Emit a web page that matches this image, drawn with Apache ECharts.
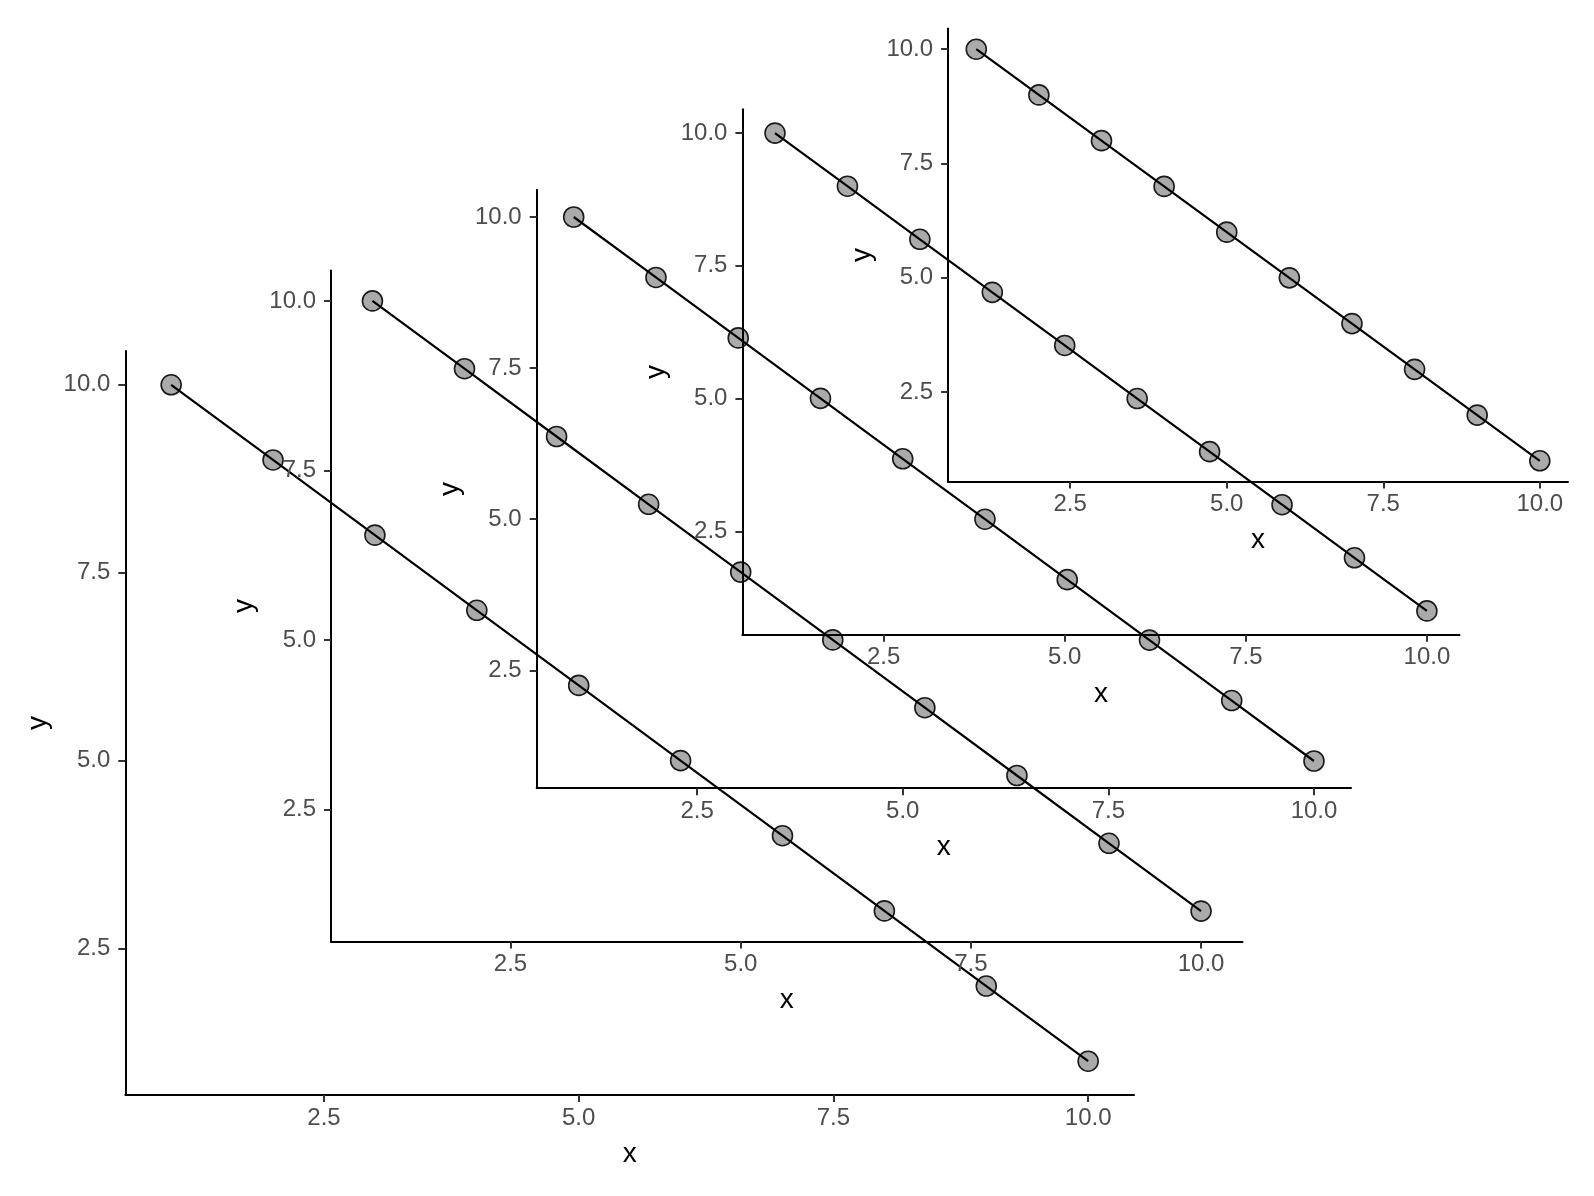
<!DOCTYPE html>
<html>
<head>
<meta charset="utf-8">
<script src="https://cdn.jsdelivr.net/npm/echarts@6/dist/echarts.min.js"></script>
<style>
html,body{margin:0;padding:0;background:#fff;}
#chart{width:1594px;height:1196px;}
</style>
</head>
<body>
<div id="chart"></div>
<script>
// Data (same for every panel)
const xValues = [1, 2, 3, 4, 5, 6, 7, 8, 9, 10];
const yValues = [10, 9, 8, 7, 6, 5, 4, 3, 2, 1];
const tickValues = [2.5, 5.0, 7.5, 10.0];
const panelCount = 5;
const axisMin = 0.55;
const axisMax = 10.45;

const chart = echarts.init(document.getElementById('chart'));
const FONT = '"Liberation Sans", Arial, Helvetica, sans-serif';

const grids = [], xAxes = [], yAxes = [], series = [];
const pts = xValues.map((x, i) => [x, yValues[i]]);

for (let i = 0; i < panelCount; i++) {
  const left = 125.3 + 205.7 * i;
  const top = 351 - 80.6 * i;
  const width = 1008.7 - 97.2 * i;
  const height = 744 - 72.8 * i;
  grids.push({ left: left, top: top, width: width, height: height, containLabel: false, show: false });
  const common = {
    gridIndex: i,
    type: 'value',
    min: axisMin,
    max: axisMax,
    z: 10 * i,
    axisLine: { show: true, onZero: false, lineStyle: { color: '#000', width: 2 } },
    axisTick: { show: true, length: 7, customValues: tickValues, lineStyle: { color: '#333', width: 2 } },
    axisLabel: {
      customValues: tickValues,
      formatter: v => Number(v).toFixed(1),
      color: '#4d4d4d',
      fontSize: 24,
      fontFamily: FONT
    },
    splitLine: { show: false },
    nameLocation: 'middle',
    nameTextStyle: { color: '#000', fontSize: 28, fontFamily: FONT }
  };
  xAxes.push(Object.assign({}, common, {
    name: 'x',
    nameGap: 45,
    axisLabel: Object.assign({}, common.axisLabel, { margin: 11 })
  }));
  yAxes.push(Object.assign({}, common, {
    name: 'y',
    nameGap: 72,
    axisLabel: Object.assign({}, common.axisLabel, { margin: 15 })
  }));
  series.push({
    type: 'scatter',
    xAxisIndex: i, yAxisIndex: i,
    data: pts,
    z: 10 * i + 1,
    symbol: 'circle',
    symbolSize: 20,
    itemStyle: { color: '#aaaaaa', borderColor: '#1a1a1a', borderWidth: 1.6, opacity: 1 },
    silent: true,
    animation: false
  });
  series.push({
    type: 'line',
    xAxisIndex: i, yAxisIndex: i,
    data: pts,
    z: 10 * i + 2,
    showSymbol: false,
    lineStyle: { color: '#000', width: 2.2 },
    silent: true,
    animation: false
  });
}

chart.setOption({
  backgroundColor: '#ffffff',
  animation: false,
  grid: grids,
  xAxis: xAxes,
  yAxis: yAxes,
  series: series
});
</script>
</body>
</html>
